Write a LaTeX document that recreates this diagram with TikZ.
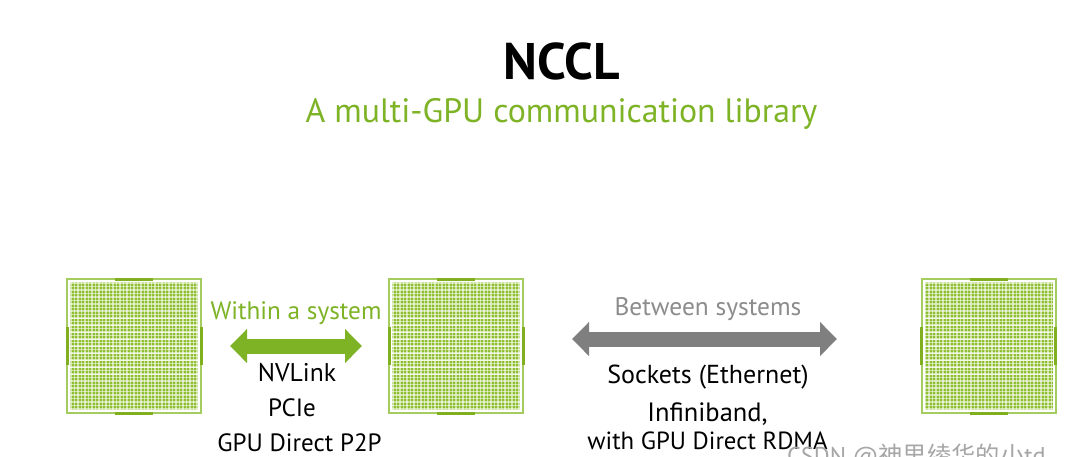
\documentclass[tikz,border=0pt]{standalone}
\usepackage{fontspec}
\setmainfont{PT Sans}
\newfontfamily\cjk{Noto Sans CJK SC}
\usetikzlibrary{arrows.meta}
\definecolor{nvgreen}{HTML}{7DB325}
\definecolor{chipgreen}{HTML}{8FBF30}
\definecolor{edgegreen}{HTML}{A5CC60}
\definecolor{tabgreen}{HTML}{80B020}
\definecolor{betweengrey}{HTML}{7F7F7F}
\tikzset{x=1pt,y=-1pt,
 chip/.style={draw=edgegreen,line width=2pt,fill=white,minimum width=134pt,minimum height=134pt,inner sep=0pt,outer sep=0pt},
 lbl/.style={text=black,inner sep=0pt,anchor=base},
 link/.style={line width=15pt,{Triangle[length=17pt,width=33pt]}-{Triangle[length=17pt,width=33pt]}},
}
\newcommand{\chipgrid}[1]{%
 \begin{scope}[shift={(#1.center)}]
  \fill[chipgreen] (-64,-64) rectangle (64,64);
  \foreach \k in {-18,...,18}{
    \draw[white,line width=1.1pt,opacity=0.55] (\k*3.5,-64) -- (\k*3.5,64);
    \draw[white,line width=1.1pt,opacity=0.55] (-64,\k*3.5) -- (64,\k*3.5);
  }
  \foreach \yy in {-28,-21,-14,-7,0,7,14,21,28}{\draw[white,line width=0.9pt,opacity=0.7] (-64,\yy) -- (64,\yy);}
  \draw[tabgreen,line width=3pt] (-19,-67) -- (19,-67);
  \draw[tabgreen,line width=3pt] (-19,67) -- (19,67);
  \draw[tabgreen,line width=3pt] (-67,-19) -- (-67,19);
  \draw[tabgreen,line width=3pt] (67,-19) -- (67,19);
 \end{scope}}
\begin{document}
\begin{tikzpicture}
\useasboundingbox (0,0) rectangle (1085,456);
\begin{scope}
\clip (0,0) rectangle (1085,456);
\fill[white] (0,0) rectangle (1085,456);
\node[inner sep=0pt,anchor=base,font=\fontsize{51.5}{52}\selectfont\bfseries] (title) at (562,79) {NCCL};
\node[inner sep=0pt,anchor=base,text=nvgreen,font=\fontsize{33.8}{35}\selectfont] (sub) at (561.5,122) {A multi-GPU communication library};
\node[chip] (g1) at (134,346) {};
\node[chip] (g2) at (456,346) {};
\node[chip] (g3) at (988.5,346) {};
\chipgrid{g1}\chipgrid{g2}\chipgrid{g3}
\node[inner sep=0pt,anchor=base,text=nvgreen,font=\fontsize{25.2}{27}\selectfont] (within) at (296,319) {Within a system};
\node[inner sep=0pt,anchor=base,text=betweengrey!90,font=\fontsize{25.4}{27}\selectfont] (between) at (708,315) {Between systems};
\coordinate (a1) at (230,346); \coordinate (a2) at (362,346);
\coordinate (b1) at (572,339); \coordinate (b2) at (837,339);
\draw[link,draw=nvgreen] (a1) -- (a2);
\draw[link,draw=betweengrey] (b1) -- (b2);
\node[lbl,font=\fontsize{25.6}{27}\selectfont] (n1) at (297,381.5) {NVLink};
\node[lbl,font=\fontsize{25}{27}\selectfont] (n2) at (292,416) {PCIe};
\node[lbl,font=\fontsize{25}{27}\selectfont] (n3) at (299.5,451) {GPU Direct P2P};
\node[lbl,font=\fontsize{26}{27}\selectfont] (s1) at (708,383) {Sockets (Ethernet)};
\node[lbl,font=\fontsize{26.5}{27}\selectfont] (s2) at (707.5,421) {Infiniband,};
\node[lbl,font=\fontsize{24.8}{27}\selectfont] (s3) at (707.5,449) {with GPU Direct RDMA};
\node[inner sep=0pt,anchor=base west,text=black!35,font=\fontsize{24.3}{26}\selectfont] (wm) at (787,464) {CSDN @{\cjk 神里绫华的小}td};
\end{scope}
\end{tikzpicture}
\end{document}
